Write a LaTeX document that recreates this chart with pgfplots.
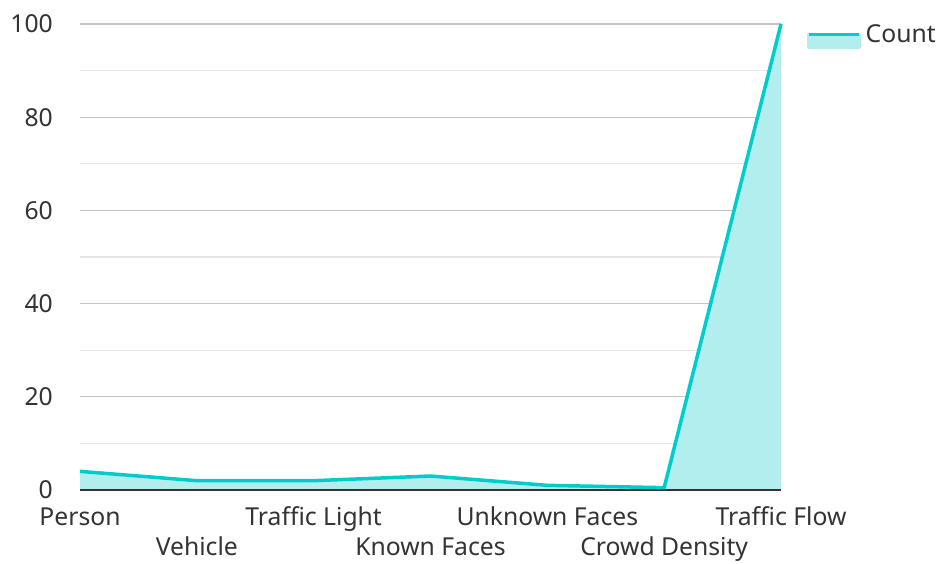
\documentclass[border=0pt]{standalone}
\usepackage{pgfplots}
\pgfplotsset{compat=1.18}
\usepackage{fontspec}
\setmainfont{Noto Sans}
\definecolor{lineC}{HTML}{00CCCC}
\definecolor{fillC}{HTML}{B2EEEE}
\definecolor{txt}{HTML}{333333}
\definecolor{majg}{HTML}{C4C4C4}
\definecolor{ming}{HTML}{E6E6E6}
\newcommand{\nd}[1]{\raisebox{0pt}[\height][0pt]{#1}}
\begin{document}
\begin{tikzpicture}
\useasboundingbox (0,0) rectangle (939bp,564bp);
\begin{axis}[
  at={(80bp,74bp)}, anchor=south west,
  scale only axis, width=701bp, height=466bp,
  xmin=0, xmax=6, ymin=0, ymax=100,
  xtick={0,...,6},
  xticklabels={{\strut Person},{\strut\\\nd{Vehicle}},{\strut Traffic Light},{\strut\\\nd{Known Faces}},{\strut Unknown Faces},{\strut\\\nd{Crowd Density}},{\strut Traffic Flow}},
  x tick label style={align=center, font=\fontsize{24.8}{30}\selectfont, text=txt, inner sep=0pt, yshift=-14bp},
  ytick={0,20,...,100},
  minor ytick={10,30,...,90},
  y tick label style={font=\fontsize{24.8}{28}\selectfont, text=txt, inner sep=0pt, xshift=-27bp},
  /pgf/number format/assume math mode=true,
  major tick length=0pt, minor tick length=0pt,
  ymajorgrids, yminorgrids,
  major grid style={majg, line width=1.3bp},
  minor grid style={ming, line width=1.3bp},
  axis line style={draw=none},
  clip=false,
  legend style={at={(1,1)}, anchor=west, xshift=26bp, yshift=-13bp, draw=none, fill=none, inner sep=0pt,
    font=\fontsize{24.8}{28}\selectfont, text=txt, column sep=5bp, nodes={inner sep=0pt}},
  legend cell align=left,
  legend image code/.code={
    \fill[fillC] (0bp,-13bp) rectangle (50bp,0bp);
    \draw[lineC, line width=3.5bp] (0bp,0bp) -- (50bp,0bp);
  },
]
\addplot[fill=fillC, draw=none, forget plot] coordinates {(0,4) (1,2) (2,2) (3,3) (4,1) (5,0.5) (6,100)} \closedcycle;
\draw[txt, line width=2bp] (axis cs:0,0) -- (axis cs:6,0);
\addplot[lineC, line width=3.5bp, line join=round] coordinates {(0,4) (1,2) (2,2) (3,3) (4,1) (5,0.5) (6,100)};
\addlegendentry{Count}
\end{axis}
\end{tikzpicture}
\end{document}
